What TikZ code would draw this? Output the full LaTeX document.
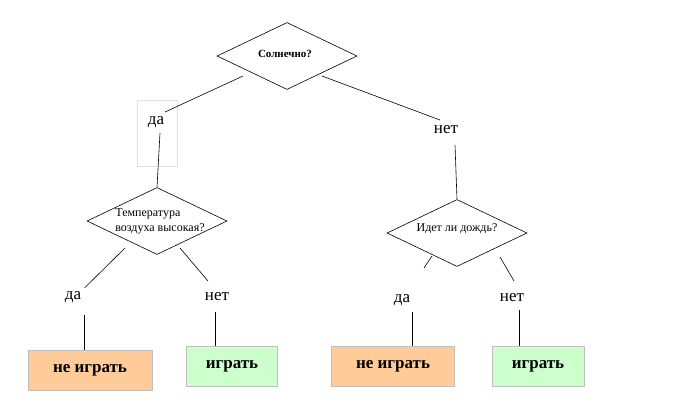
\documentclass[tikz,border=0pt]{standalone}
\usepackage{fontspec}
\setmainfont{Liberation Serif}
\usetikzlibrary{shapes.geometric}
\begin{document}
\begin{tikzpicture}[x=1pt,y=-1pt,
  dia/.style={draw,diamond,aspect=2.1,minimum width=140pt,minimum height=67pt,inner sep=0pt,line width=0.6pt},
  lbl/.style={font=\fontsize{17}{17}\selectfont},
  res/.style={draw=black!25,font=\bfseries\fontsize{17}{17}\selectfont,minimum height=40pt},
  no/.style={res,fill={rgb,255:red,255;green,204;blue,153}},
  yes/.style={res,fill={rgb,255:red,204;green,255;blue,204}},
  ln/.style={line width=0.6pt}]
\useasboundingbox (0,0) rectangle (674,400);
\node[dia] (d1) at (287,56) {};
\node[font=\bfseries\fontsize{11}{11}\selectfont] (t1) at (285,54) {Солнечно?};
\node[draw=black!12,minimum width=40pt,minimum height=66pt] (b1) at (157,133) {};
\node[lbl] (y1) at (156,122) {да};
\node[lbl] (n1) at (446,130) {нет};
\node[dia] (d2) at (157,221) {};
\node[align=left,font=\fontsize{12}{15}\selectfont] (t2) at (160,221) {Температура\\воздуха высокая?};
\node[dia] (d3) at (457,233) {};
\node[font=\fontsize{12}{12}\selectfont] (t3) at (457,229) {Идет ли дождь?};
\node[lbl] (y2) at (73,297) {да};
\node[lbl] (n2) at (217,297) {нет};
\node[lbl] (y3) at (402,300) {да};
\node[lbl] (n3) at (512,298) {нет};
\node[no,minimum width=124pt] (r1) at (90,370) {не играть};
\node[yes,minimum width=91pt] (r2) at (232,366) {играть};
\node[no,minimum width=123pt] (r3) at (393,366) {не играть};
\node[yes,minimum width=92pt] (r4) at (538,366) {играть};
\coordinate (c1) at (165,112); \coordinate (c2) at (160,133);
\coordinate (c3) at (440,120); \coordinate (c4) at (455,145);
\draw[ln] (243,76) -- (c1);
\draw[ln] (c2) -- (d2.north);
\draw[ln] (322,76) -- (c3);
\draw[ln] (c4) -- (d3.north);
\draw[ln] (125,248) -- (y2.north east);
\draw[ln] (180,248) -- (208,281);
\draw[ln] (432,256) -- (424,268);
\draw[ln] (500,257) -- (514,281);
\draw[ln] (84,315) -- (r1.north -| 84,0);
\draw[ln] (215,312) -- (r2.north -| 215,0);
\draw[ln] (412,312) -- (r3.north -| 412,0);
\draw[ln] (519,310) -- (r4.north -| 519,0);
\end{tikzpicture}
\end{document}
